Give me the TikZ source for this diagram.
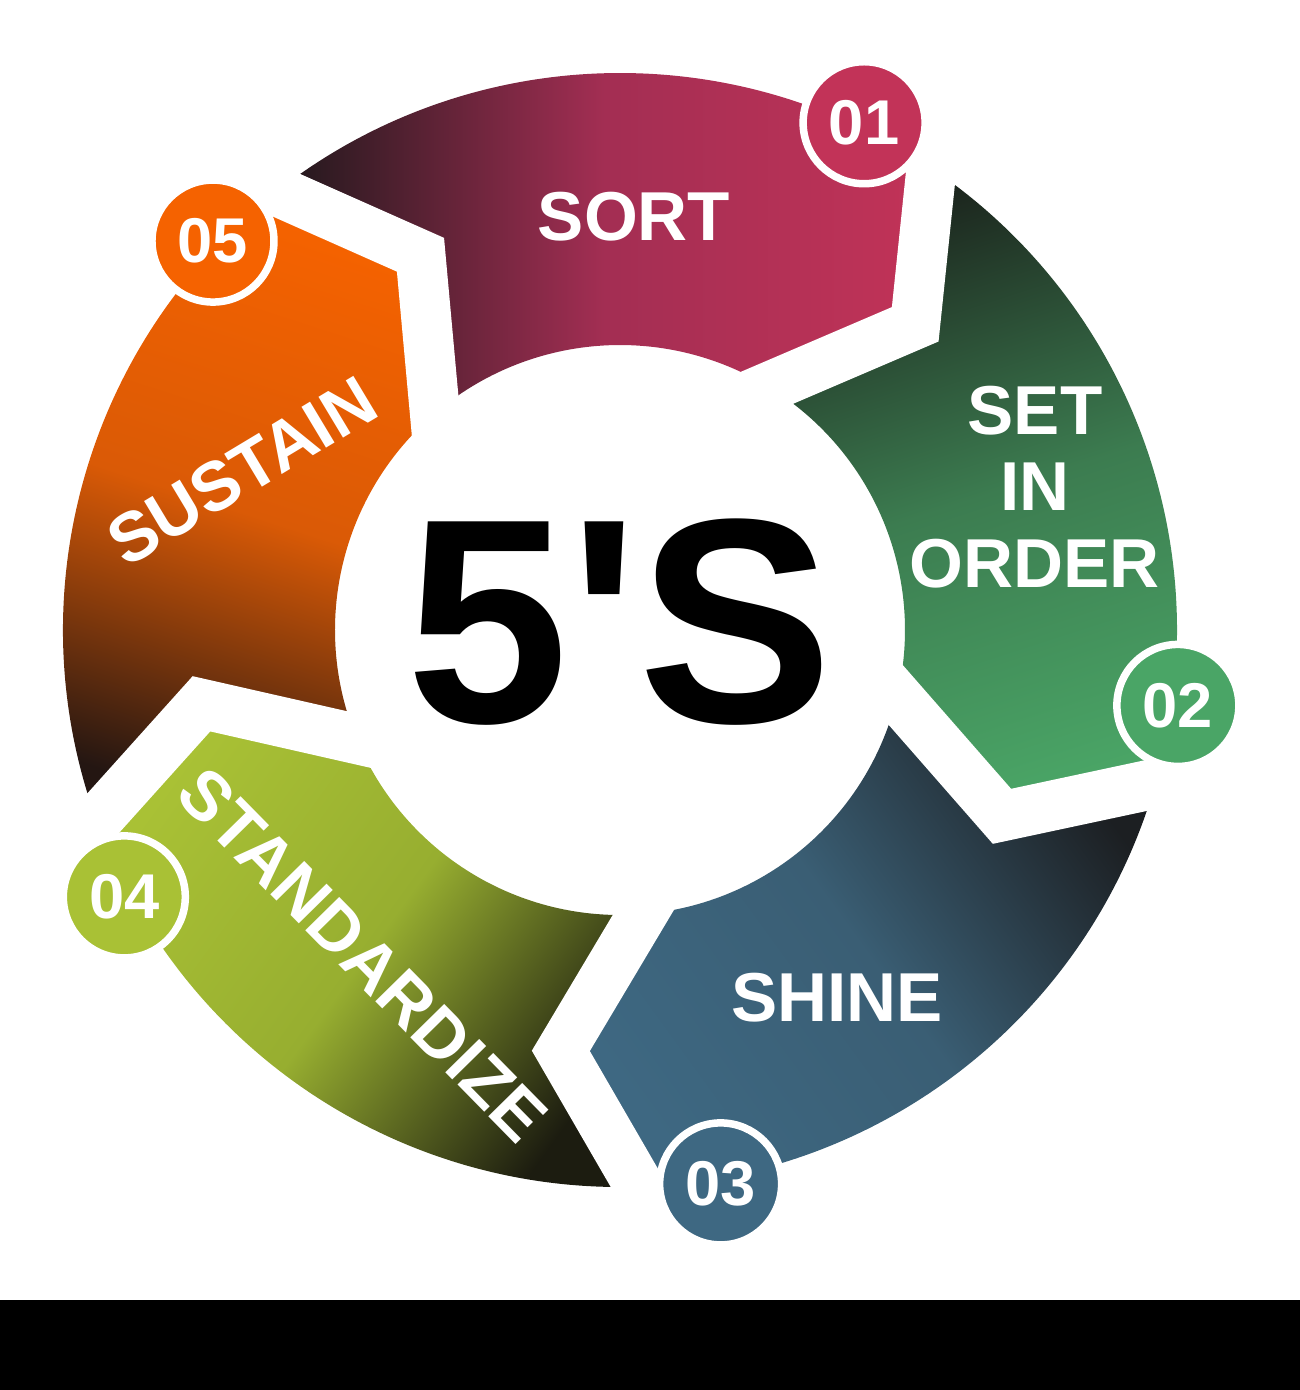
\documentclass[tikz,border=0pt]{standalone}
\usepackage{fontspec}
\setmainfont{Liberation Sans}
\usetikzlibrary{positioning,calc}

\definecolor{sortbright}{HTML}{C23358}
\definecolor{sortmid}{HTML}{A32E53}
\definecolor{sortdark}{HTML}{1E181B}
\definecolor{setbright}{HTML}{4AA566}
\definecolor{setmid}{HTML}{3C7C50}
\definecolor{setdark}{HTML}{1C261E}
\definecolor{shinebright}{HTML}{3E6882}
\definecolor{shinemid}{HTML}{3A5E74}
\definecolor{shinedark}{HTML}{1C1F22}
\definecolor{stdbright}{HTML}{A9C135}
\definecolor{stdmid}{HTML}{97AE30}
\definecolor{stddark}{HTML}{1C1C10}
\definecolor{susbright}{HTML}{F56200}
\definecolor{susmid}{HTML}{DA5A06}
\definecolor{susdark}{HTML}{241612}

\begin{document}
\begin{tikzpicture}[
        gap/.style={draw=white, line width=5mm, line join=miter},
        word/.style={text=white, font=\bfseries\fontsize{19.7}{21.8}\selectfont, align=center},
        num/.style={circle, draw=white, line width=0.75mm, minimum size=12.2mm, inner sep=0pt,
                    text=white, font=\bfseries\fontsize{18}{18}\selectfont}]

        \useasboundingbox (-6.2,-7.6) rectangle (6.8,6.3);

        % the five arrow segments
        \shade [top color=sortbright, bottom color=sortdark, middle color=sortmid, shading angle=-90]
            (128:5.57) arc[start angle=128, end angle=56, radius=5.57] -- (46:4.25)
            -- (58.5:2.85) arc[start angle=58.5, end angle=130.5, radius=2.85] -- (118:4.25) -- cycle;
        \shade [top color=setbright, bottom color=setdark, middle color=setmid, shading angle=-162]
            (56:5.57) arc[start angle=56, end angle=-16, radius=5.57] -- (-26:4.25)
            -- (-13.5:2.85) arc[start angle=-13.5, end angle=58.5, radius=2.85] -- (46:4.25) -- cycle;
        \shade [top color=shinebright, bottom color=shinedark, middle color=shinemid, shading angle=126]
            (-16:5.57) arc[start angle=-16, end angle=-88, radius=5.57] -- (-98:4.25)
            -- (-85.5:2.85) arc[start angle=-85.5, end angle=-13.5, radius=2.85] -- (-26:4.25) -- cycle;
        \shade [top color=stdbright, bottom color=stddark, middle color=stdmid, shading angle=54]
            (-88:5.57) arc[start angle=-88, end angle=-160, radius=5.57] -- (-170:4.25)
            -- (-157.5:2.85) arc[start angle=-157.5, end angle=-85.5, radius=2.85] -- (-98:4.25) -- cycle;
        \shade [top color=susbright, bottom color=susdark, middle color=susmid, shading angle=-18]
            (200:5.57) arc[start angle=200, end angle=128, radius=5.57] -- (118:4.25)
            -- (130.5:2.85) arc[start angle=130.5, end angle=202.5, radius=2.85] -- (190:4.25) -- cycle;

        % white chevron gaps
        \draw [gap] ($(118:4.25)!1.4!(128:5.57)$) -- (118:4.25) -- ($(118:4.25)!1.3!(130.5:2.85)$);
        \draw [gap] ($(46:4.25)!1.4!(56:5.57)$) -- (46:4.25) -- ($(46:4.25)!1.3!(58.5:2.85)$);
        \draw [gap] ($(-26:4.25)!1.4!(-16:5.57)$) -- (-26:4.25) -- ($(-26:4.25)!1.3!(-13.5:2.85)$);
        \draw [gap] ($(-98:4.25)!1.4!(-88:5.57)$) -- (-98:4.25) -- ($(-98:4.25)!1.3!(-85.5:2.85)$);
        \draw [gap] ($(-170:4.25)!1.4!(-160:5.57)$) -- (-170:4.25) -- ($(-170:4.25)!1.3!(-157.5:2.85)$);

        % labels
        \node [word] (sort) at (0.14,4.13) {SORT};
        \node [word] (setinorder) at (4.15,1.43) {SET\\IN\\ORDER};
        \node [word] (shine) at (2.17,-3.68) {SHINE};
        \node [word, rotate=-45.5] (standardize) at (-2.57,-3.25) {STANDARDIZE};
        \node [word, rotate=31] (sustain) at (-3.78,1.59) {SUSTAIN};

        \node [anchor=base, font=\bfseries\fontsize{83}{83}\selectfont] (core) at (0,-0.92) {5\textquotesingle S};

        % step numbers
        \node [num, fill=sortbright] (n01) at (64.3:5.63) {01};
        \node [num, fill=setbright] (n02) at (-7.7:5.63) {02};
        \node [num, fill=shinebright] (n03) at (-79.7:5.63) {03};
        \node [num, fill=stdbright] (n04) at (-151.7:5.63) {04};
        \node [num, fill=susbright] (n05) at (136.3:5.63) {05};

        % bottom strip
        \fill [black] (-6.2,-7.6) rectangle (6.8,-6.7);

    \end{tikzpicture}
\end{document}
